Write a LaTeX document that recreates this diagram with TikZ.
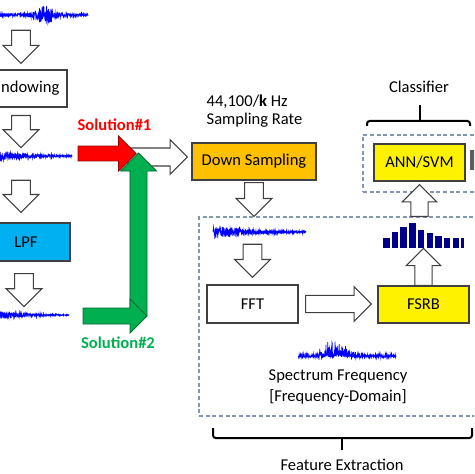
\documentclass[tikz,border=0pt]{standalone}
\usepackage{fontspec}
\setmainfont{Carlito}
\usetikzlibrary{calc}

\begin{document}
\begin{tikzpicture}[x=0.75pt,y=-0.75pt,line join=miter,
	font=\fontsize{12.4}{13.5}\selectfont,
	box/.style={draw=boxgray,line width=0.8pt,minimum height=27.75pt,inner sep=0pt},
	hollow/.style={draw=boxgray,fill=white,line width=0.8pt},
	dashbox/.style={draw=dashgray,line width=0.8pt,dash pattern=on 3pt off 2pt,inner sep=0pt},
	wave/.style={inner sep=0pt,minimum width=0pt},
	brace/.style={line width=1.5pt,rounded corners=2pt}]

\definecolor{boxgray}{RGB}{64,64,64}
\definecolor{dashgray}{RGB}{132,151,176}
\definecolor{lpfblue}{RGB}{0,176,240}
\definecolor{dsorange}{RGB}{255,192,0}
\definecolor{solred}{RGB}{255,0,0}
\definecolor{solgreen}{RGB}{0,176,80}
\definecolor{barblue}{RGB}{0,0,139}
\definecolor{waveblue}{RGB}{0,0,255}

\useasboundingbox (0,0) rectangle (474,474);
\clip (0,0) rectangle (474,474);

\def\blockarrow#1#2#3#4#5{%
	\coordinate (s) at #2;
	\coordinate (e) at #3;
	\coordinate (h) at ($(e)!#5!(s)$);
	\draw[#1] ($(s)!#4!90:(e)$) -- ($(h)!#4!90:(e)$) -- ($(h)!#5!90:(e)$) -- (e)
		-- ($(h)!#5!-90:(e)$) -- ($(h)!#4!-90:(e)$) -- ($(s)!#4!-90:(e)$) -- cycle;
}

\node[dashbox,minimum width=240.75pt,minimum height=149.25pt] (feat) at (359.5,316.5) {};
\node[dashbox,minimum width=117.75pt,minimum height=42.75pt] (clsf) at (441.5,163.5) {};

\pgfmathsetseed{42}
\draw[waveblue,line width=0.5pt] plot[domain=0:88,samples=450]
	({\x},{15+(1.4+8*exp(-((\x-45)/11)*((\x-45)/11)))*rand});
\draw[waveblue,line width=0.5pt] plot[domain=0:72,samples=350]
	({\x},{156+(0.8+4.5*exp(-\x/22))*rand});
\draw[waveblue,line width=0.5pt] plot[domain=0:69,samples=350]
	({\x},{315+(0.7+4*exp(-\x/18))*rand});
\draw[waveblue,line width=0.5pt] plot[domain=213:306,samples=500]
	({\x},{232+(0.7+7*exp(-(\x-213)/28))*rand});
\draw[waveblue,line width=0.5pt] plot[domain=298:396,samples=450]
	({\x},{358-(4+15*exp(-((\x-335)/14)*((\x-335)/14)))*rnd*rnd-2*rnd});

\node[wave,minimum height=15pt] (wave1) at (21,15) {};
\node[wave,minimum height=4.5pt] (wave2) at (21,156) {};
\node[wave,minimum height=4.5pt] (wave4) at (24,315) {};
\node[wave,minimum height=9pt] (wave3) at (259.5,232) {};
\node[wave,minimum width=61.5pt,minimum height=18.75pt] (bars) at (424,235.5) {};

\foreach \i/\t/\w in {0/238/6.5,1/232/6.5,2/227/6.5,3/223/6.5,4/230/6.5,5/233/6.5,6/236/6.5,7/238/6.5,8/238/6.5,9/238/3}
	\fill[barblue] ({383+\i*8.7},248) rectangle ({383+\i*8.7+\w},\t);

\node[box,fill=white,minimum width=69pt] (win) at (21,88.5) {Windowing};
\node[box,fill=lpfblue,minimum width=66pt,minimum height=28.5pt] (lpf) at (26,242) {LPF};
\node[box,fill=dsorange,minimum width=93pt] (down) at (254,161.5) {Down Sampling};
\node[box,fill=white,minimum width=68.25pt,minimum height=28.5pt] (fft) at (252.5,304) {FFT};
\node[box,fill=yellow,minimum width=68.25pt] (fsrb) at (423.5,304.5) {FSRB};
\node[box,fill=yellow,minimum width=68.25pt] (ann) at (419.5,162.5) {ANN/SVM};
\fill[boxgray!85] (470,150) rectangle (480,170);

\blockarrow{hollow}{($(wave1.south)+(0,5)$)}{($(win.north)+(0,-6)$)}{7pt}{13.5pt}
\blockarrow{hollow}{($(win.south)+(0,8)$)}{($(wave2.north)+(0,-5)$)}{7pt}{13.5pt}
\blockarrow{hollow}{($(wave2.south)+(0,21)$)}{($(lpf.north -| wave2)+(0,-10)$)}{7pt}{13.5pt}
\blockarrow{hollow}{($(lpf.south -| wave4)+(0,12)$)}{($(wave4.north)+(0,-5)$)}{7pt}{13.5pt}
\blockarrow{hollow}{($(down.south)+(0,2)$)}{(down.south |- feat.north)}{7pt}{13.5pt}
\blockarrow{hollow}{($(fft.north |- wave3.south)+(0,6)$)}{($(fft.north)+(0,-7)$)}{7pt}{13.5pt}
\blockarrow{hollow}{($(fft.east)+(7,0)$)}{($(fft.east -| fsrb.west)+(-6,0)$)}{6.5pt}{13pt}
\blockarrow{hollow}{(fsrb.north)}{(fsrb.north |- bars.south)}{6.5pt}{13pt}
\blockarrow{hollow}{(ann.south |- feat.north)}{($(ann.south)+(0,3)$)}{6.5pt}{13pt}

\coordinate (junc) at (136,153.5);
\blockarrow{hollow}{($(junc)+(-8,3.5)$)}{($(down.west)+(-4,-4.5)$)}{6.75pt}{13pt}
\blockarrow{fill=solgreen,draw=solgreen!60!black,line width=0.6pt}{($(junc)+(2.5,162.5)$)}{($(junc)+(2.5,-0.5)$)}{6.4pt}{13.5pt}
\blockarrow{fill=solgreen,draw=solgreen!60!black,line width=0.6pt}{($(wave4)+(59,1)$)}{($(junc)+(11,162.5)$)}{6pt}{12.75pt}
\blockarrow{fill=solred,draw=solred!60!black,line width=0.6pt}{($(wave2)+(57,-2.5)$)}{(junc)}{5.6pt}{13.1pt}

\draw[brace] (367,126) -- (367,121) -- (470,121) -- (470,126);
\draw[brace] (420,121) -- (420,105);
\draw[brace] (213,428) -- (213,438) -- (472,438) -- (472,428);
\draw[brace] (342,438) -- (342,450);

\node (clsftxt) at (419,87) {Classifier};
\node (feattxt) at (342,465) {Feature Extraction};
\node[align=left,anchor=west] (rate) at (202,111) {44,100/\textbf{k} Hz\\Sampling Rate};
\node[align=center,font=\fontsize{12.4}{15.5}\selectfont] (spectxt) at (338,387) {Spectrum Frequency\\{[Frequency-Domain]}};
\node[text=solred] (sol1) at (114.5,125) {\bfseries Solution\#1};
\node[text=solgreen] (sol2) at (118,343) {\bfseries Solution\#2};

\end{tikzpicture}
\end{document}
